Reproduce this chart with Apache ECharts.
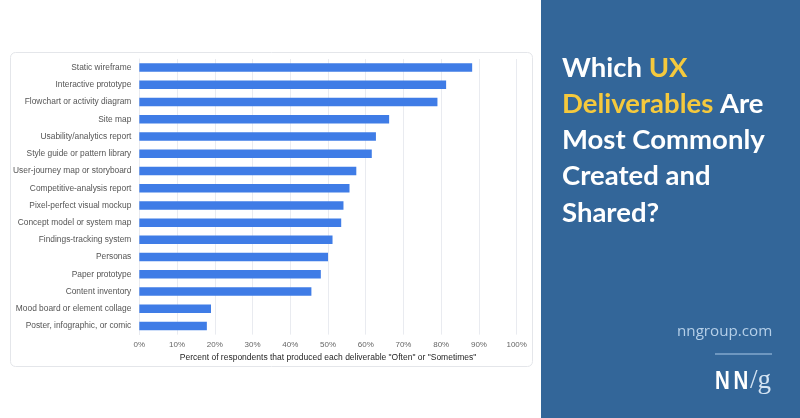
<!DOCTYPE html>
<html>
<head>
<meta charset="utf-8">
<style>
  html, body { margin: 0; padding: 0; background: #fff; }
  #chart { width: 800px; height: 418px; }
</style>
<script src="https://cdn.jsdelivr.net/npm/echarts@6/dist/echarts.min.js"></script>
</head>
<body>
<div id="chart"></div>
<script>
var categories = [
  'Static wireframe', 'Interactive prototype', 'Flowchart or activity diagram', 'Site map',
  'Usability/analytics report', 'Style guide or pattern library', 'User-journey map or storyboard',
  'Competitive-analysis report', 'Pixel-perfect visual mockup', 'Concept model or system map',
  'Findings-tracking system', 'Personas', 'Paper prototype', 'Content inventory',
  'Mood board or element collage', 'Poster, infographic, or comic'
];
var percents = [88.2, 81.3, 79, 66.2, 62.7, 61.6, 57.5, 55.7, 54.1, 53.5, 51.2, 50, 48.1, 45.6, 19, 17.9];
var axisTitle = 'Percent of respondents that produced each deliverable "Often" or "Sometimes"';

var labelFont = '"Liberation Sans", Arial, sans-serif';
var logoFont = 'bold 25px "Liberation Sans", sans-serif';

var myChart = echarts.init(document.getElementById('chart'));

myChart.setOption({
  animation: false,
  backgroundColor: '#ffffff',
  grid: { left: 139.3, top: 59, width: 377.4, height: 275.6, containLabel: false },
  xAxis: {
    type: 'value',
    min: 0,
    max: 100,
    interval: 10,
    name: axisTitle,
    nameLocation: 'middle',
    nameGap: 16,
    nameTextStyle: { color: '#1f1f1f', fontSize: 8.5, fontFamily: labelFont },
    axisLine: { show: false },
    axisTick: { show: false },
    axisLabel: {
      formatter: '{value}%',
      color: '#666666',
      fontSize: 8,
      margin: 6,
      fontFamily: labelFont
    },
    splitLine: { lineStyle: { color: '#e9ebf0', width: 1 } }
  },
  yAxis: {
    type: 'category',
    inverse: true,
    data: categories,
    axisLine: { lineStyle: { color: '#e9ebf0', width: 1 } },
    axisTick: { show: false },
    axisLabel: { color: '#555555', fontSize: 8.4, margin: 8, fontFamily: labelFont }
  },
  series: [{
    type: 'bar',
    data: percents,
    barWidth: 8.5,
    itemStyle: { color: '#3f7ce6' },
    silent: true
  }],
  graphic: [
    // card behind the chart
    {
      type: 'rect', z: -10,
      shape: { x: 10.5, y: 52.5, width: 522, height: 314, r: 5 },
      style: { fill: '#ffffff', stroke: '#e4e6ea', lineWidth: 1 }
    },
    // blue side panel
    {
      type: 'rect', z: 5,
      shape: { x: 541, y: 0, width: 259, height: 418 },
      style: { fill: '#336699' }
    },
    {
      type: 'text', z: 6, left: 562, top: 49.5,
      style: {
        text: 'Which {y|UX}\n{y|Deliverables} Are\nMost Commonly\nCreated and\nShared?',
        fill: '#ffffff',
        font: 'bold 27.5px Lato, sans-serif',
        lineHeight: 36.3,
        rich: {
          y: { fill: '#f5c93d', font: 'bold 27.5px Lato, sans-serif', lineHeight: 36.3 }
        }
      }
    },
    {
      type: 'text', z: 6, left: 677, top: 324,
      style: { text: 'nngroup.com', fill: '#b5cfe8', font: '15.2px "Open Sans", sans-serif' }
    },
    {
      type: 'rect', z: 6,
      shape: { x: 715, y: 353.5, width: 57, height: 1 },
      style: { fill: '#a9c8e8' }
    },
    // logo letters are narrower than the font, so squeeze them
    {
      type: 'text', z: 6, x: 715, y: 370, scaleX: 0.82,
      style: { text: 'N', fill: '#ffffff', font: logoFont }
    },
    {
      type: 'text', z: 6, x: 733.5, y: 370, scaleX: 0.82,
      style: { text: 'N', fill: '#ffffff', font: logoFont }
    },
    {
      type: 'text', z: 6, left: 750, top: 367,
      style: { text: '/g', fill: '#d5e4f3', font: '27px "Liberation Serif", serif' }
    }
  ]
});
</script>
</body>
</html>
